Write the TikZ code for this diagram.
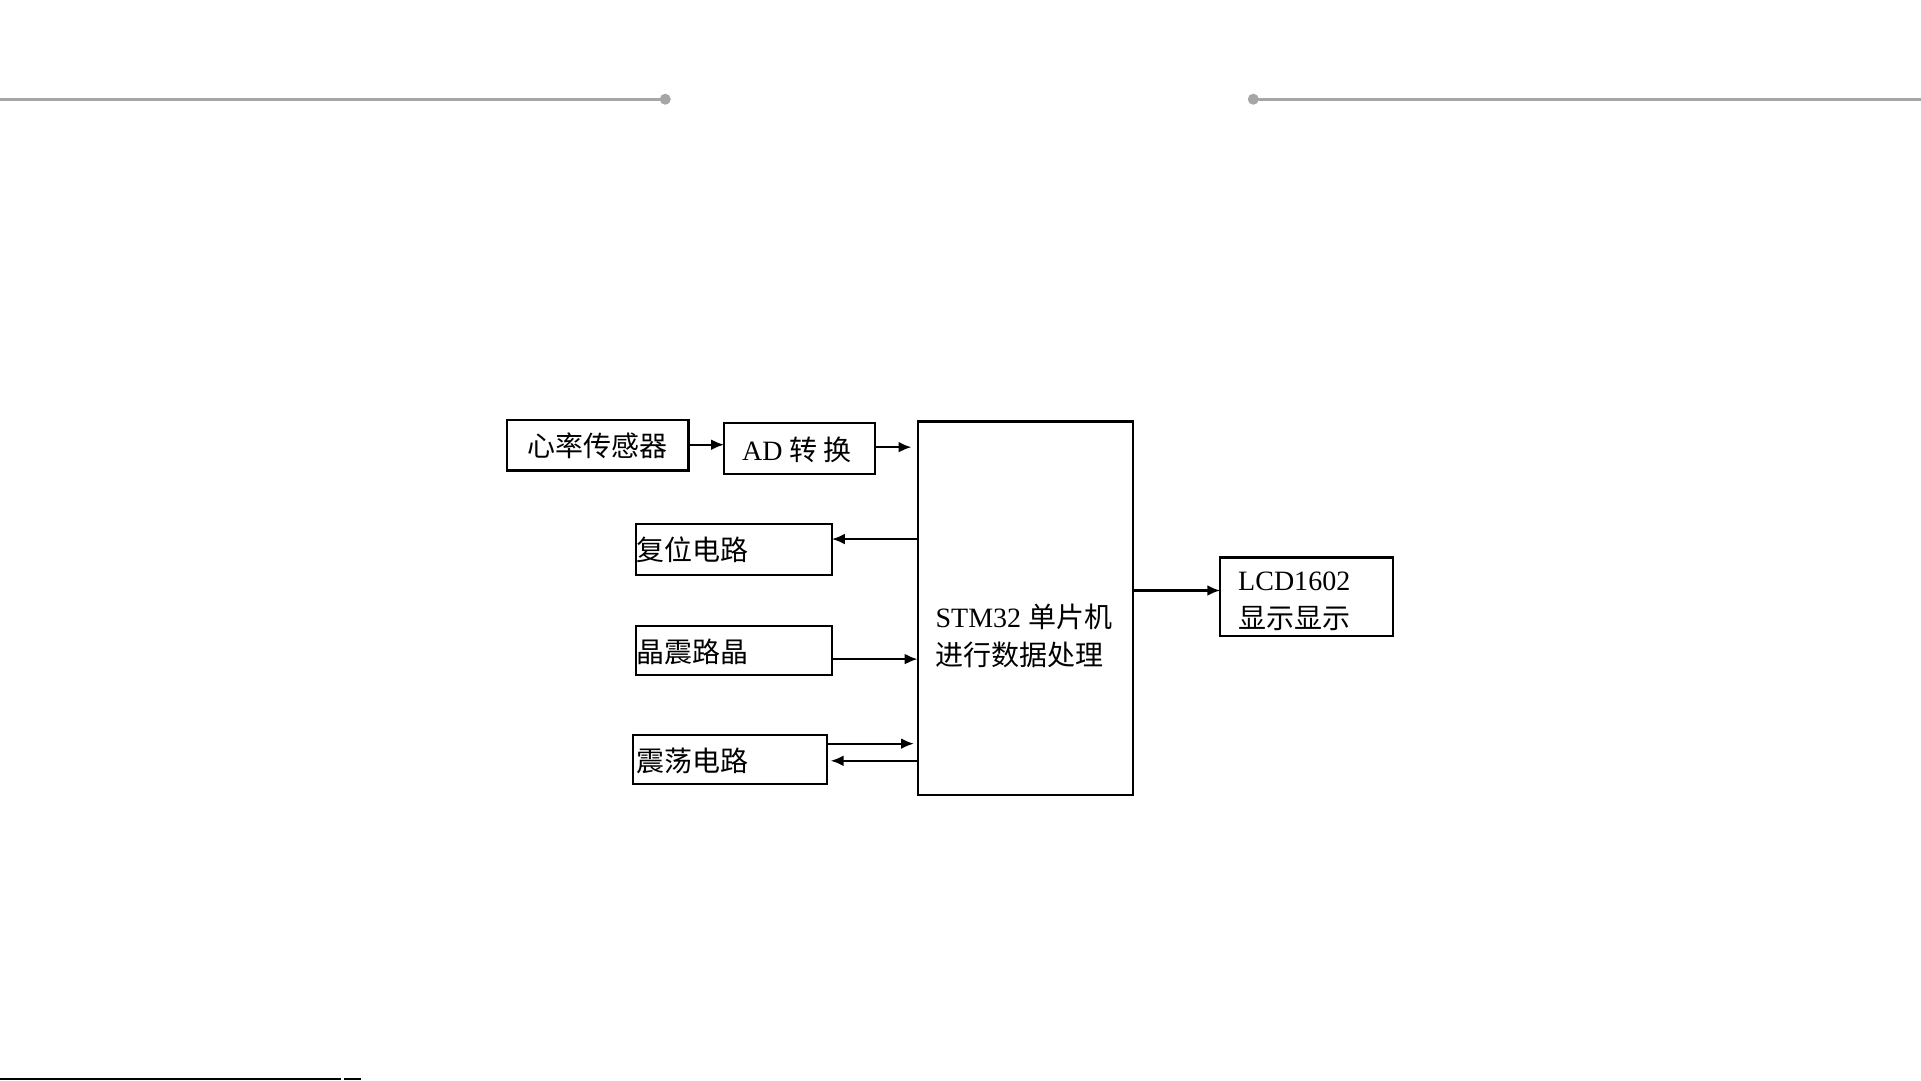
\documentclass[tikz,border=0pt]{standalone}
\usepackage{fontspec}
\setmainfont{Liberation Serif}
\newfontfamily\cjk{Noto Sans CJK SC}
\usetikzlibrary{arrows.meta}
\begin{document}
\begin{tikzpicture}[x=0.01cm,y=-0.01cm,
  blk/.style={draw,line width=0.5pt},
  lbl/.style={anchor=west,inner sep=0pt,font=\fontsize{6.5}{7.8}\selectfont},
  arr/.style={-{Latex[length=3pt,width=2.5pt]},line width=0.5pt},
  deco/.style={draw=gray!70,line width=0.6pt}]
\useasboundingbox (0,0) rectangle (1568,882);
% decorations
\draw[deco] (0,81) -- (543,81);
\fill[gray!70] (543,81) circle (4.5);
\draw[deco] (1023,81) -- (1568,81);
\fill[gray!70] (1023,81) circle (4.5);
\draw[line width=0.4pt] (0,881) -- (278,881);
\draw[line width=0.4pt] (281,881) -- (295,881);
% boxes
\draw[blk] (414,343) rectangle (562,384);
\node[lbl] (t1) at (430,364) {\cjk 心率传感器};
\draw[blk] (591,345) rectangle (714,387);
\node[lbl] (t2) at (605,367) {AD \cjk 转 换};
\draw[blk] (749,344) rectangle (925,649);
\node[lbl,align=left] (t3) at (763,519) {STM32 {\cjk 单片机}\\[1pt]{\cjk 进行数据处理}};
\draw[blk] (519,428) rectangle (679,469);
\node[lbl] (t4) at (519,449) {\cjk 复位电路};
\draw[blk] (519,511) rectangle (679,551);
\node[lbl] (t5) at (519,532) {\cjk 晶震路晶};
\draw[blk] (517,600) rectangle (675,640);
\node[lbl] (t6) at (519,621) {\cjk 震荡电路};
\draw[blk] (996,455) rectangle (1137,519);
\node[lbl,align=left] (t7) at (1010,491) {LCD1602\\[1pt]{\cjk 显示显示}};
% arrows
\draw[arr] (562,363) -- (591,363);
\draw[arr] (714,365) -- (744,365);
\draw[arr] (749,440) -- (679,440);
\draw[arr] (679,538) -- (749,538);
\draw[arr] (675,607) -- (746,607);
\draw[arr] (749,621) -- (678,621);
\draw[arr] (925,482) -- (996,482);
\end{tikzpicture}
\end{document}
